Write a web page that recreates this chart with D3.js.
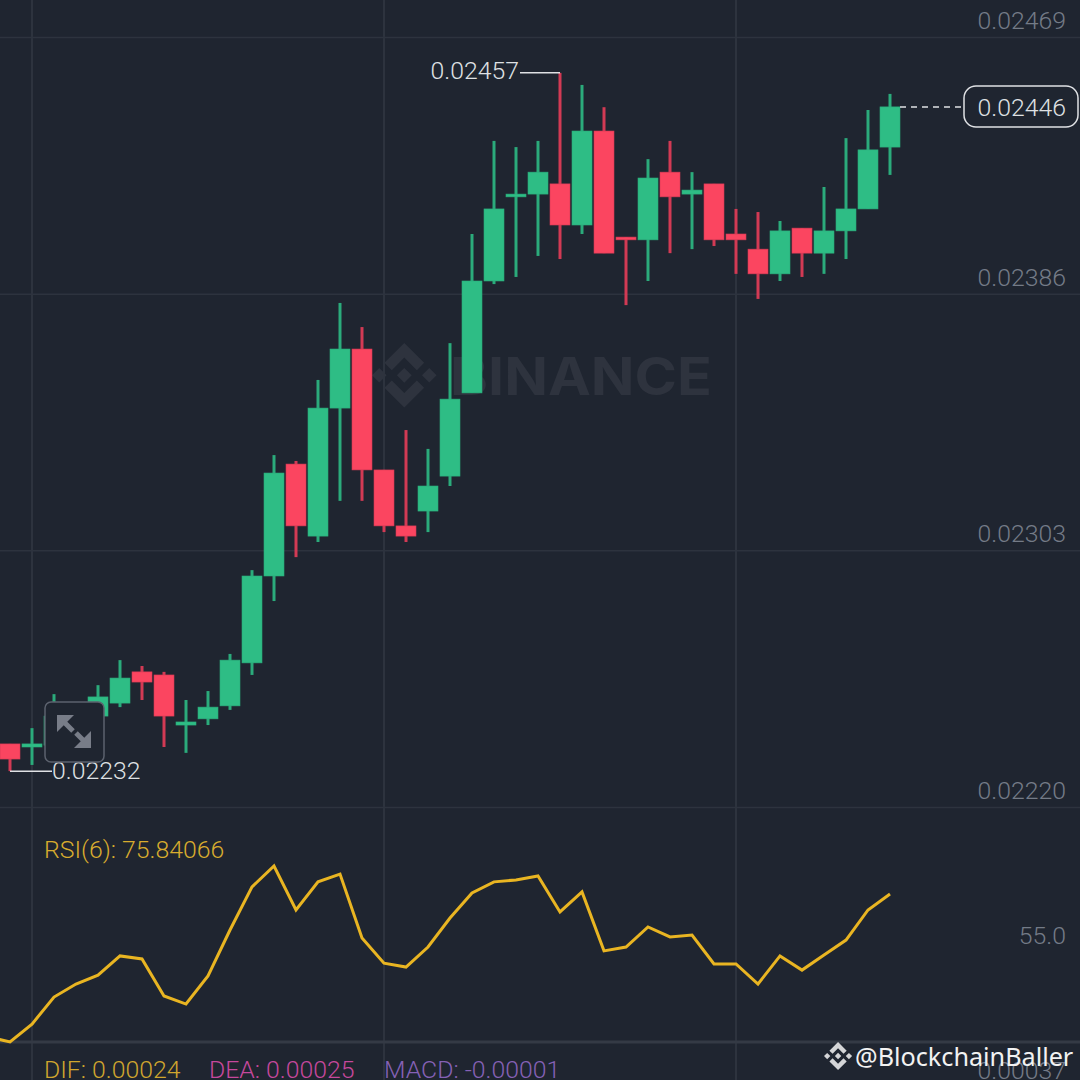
<!DOCTYPE html>
<html>
<head>
<meta charset="utf-8">
<script src="https://cdnjs.cloudflare.com/ajax/libs/d3/7.8.5/d3.min.js"></script>
<style>
  html, body { margin: 0; padding: 0; background: #1f2530; }
  svg { display: block; font-family: Roboto, sans-serif; font-weight: 300; }
</style>
</head>
<body>
<div id="vis"></div>
<script type="text/javascript">

    const opens = [0.022404, 0.022394, 0.022400, 0.022488, 0.022494, 0.022536, 0.022637, 0.022627, 0.022465, 0.022485, 0.022527,
        0.022666, 0.022947, 0.023309, 0.023076, 0.023490, 0.023681, 0.023290, 0.023109, 0.023157, 0.023270,
        0.023539, 0.023901, 0.024173, 0.024182, 0.024215, 0.024082, 0.024386, 0.024043, 0.024034, 0.024253,
        0.024182, 0.024215, 0.024053, 0.024004, 0.023924, 0.024072, 0.023991, 0.024063, 0.024134, 0.024334];
    const highs = [0.022404, 0.022455, 0.022565, 0.022533, 0.022594, 0.022675, 0.022656, 0.022637, 0.022546, 0.022575, 0.022695,
        0.022966, 0.023338, 0.023319, 0.023581, 0.023830, 0.023752, 0.023290, 0.023419, 0.023358, 0.023700,
        0.024053, 0.024354, 0.024334, 0.024354, 0.024574, 0.024535, 0.024463, 0.024043, 0.024295, 0.024354,
        0.024253, 0.024215, 0.024134, 0.024124, 0.024095, 0.024072, 0.024205, 0.024363, 0.024454, 0.024506];
    const lows = [0.022316, 0.022336, 0.022384, 0.022475, 0.022488, 0.022523, 0.022546, 0.022394, 0.022375, 0.022465, 0.022514,
        0.022627, 0.022866, 0.023008, 0.023057, 0.023190, 0.023190, 0.023089, 0.023057, 0.023089, 0.023238,
        0.023539, 0.023891, 0.023914, 0.023982, 0.023972, 0.024053, 0.023991, 0.023823, 0.023901, 0.023991,
        0.024004, 0.024014, 0.023924, 0.023843, 0.023901, 0.023914, 0.023924, 0.023972, 0.024134, 0.024244];
    const closes = [0.022355, 0.022404, 0.022494, 0.022514, 0.022556, 0.022617, 0.022604, 0.022494, 0.022475, 0.022523, 0.022675,
        0.022947, 0.023280, 0.023109, 0.023490, 0.023681, 0.023290, 0.023109, 0.023076, 0.023238, 0.023519,
        0.023901, 0.024134, 0.024182, 0.024253, 0.024082, 0.024386, 0.023991, 0.024034, 0.024234, 0.024173,
        0.024195, 0.024034, 0.024034, 0.023924, 0.024063, 0.023991, 0.024063, 0.024134, 0.024325, 0.024464];

    // one extra value in front: that candle sits off the left edge
    const rsi = [24.5, 22.7, 29.1, 38.8, 43.5, 46.7, 53.6, 52.5, 39.2, 36.3, 46.4,
        62.9, 78.4, 85.9, 70.1, 80.2, 83.0, 60.0, 51.0, 49.6, 56.8,
        67.2, 76.2, 80.2, 80.9, 82.3, 69.4, 76.6, 55.4, 56.8, 64.0,
        60.4, 61.1, 50.7, 50.7, 43.5, 53.6, 48.5, 53.9, 59.3, 70.1, 75.84066];

    const priceTicks = [0.02469, 0.02386, 0.02303, 0.02220];
    const timeTicks = [1, 17, 33];
    const rsiTick = 55;
    const macdTick = "0.00037";
    const macdLabels = [["DIF: 0.00024", "#d0a62e", 44], ["DEA: 0.00025", "#c5489c", 209], ["MACD: -0.00001", "#8561b5", 384]];

    const W = 1080, H = 1080;
    const BG = "#1f2530", GRID = "#2d333e", GRAY = "#747b87", WHITE = "#dfe1e4";
    const UP = "#2ebd85", DOWN = "#fb4560", UP_WICK = "#2bab7b", DOWN_WICK = "#d23a54";
    const FONT = "24.8px";
    const LOGO = "M38.73 53.2l24.59-24.58 24.6 24.6 14.3-14.31L63.32 0 24.42 38.9zM0 63.31l14.3-14.31 14.31 14.31-14.31 14.3zM38.73 73.41l24.59 24.59 24.6-24.6 14.31 14.29-38.9 38.91-38.91-38.88zM98 63.31l14.3-14.31 14.31 14.3-14.31 14.32zM77.83 63.3L63.32 48.78 52.59 59.51l-1.24 1.23-2.54 2.54 14.51 14.5 14.51-14.47z";

    const svg = d3.select("#vis").append("svg").attr("width", W).attr("height", H);
    svg.append("rect").attr("width", W).attr("height", H).attr("fill", BG);

    const x = d3.scaleLinear().domain([0, 40]).range([10, 890]);
    const y = d3.scaleLinear().domain([0.02220, 0.02469]).range([807, 37]);
    const rsiY = d3.scaleLinear().domain([55, 75.84066]).range([952, 894]);
    const fmt = d3.format(".5f");
    const indexes = d3.range(opens.length);

    // vertical grid
    svg.append("g").selectAll("line").data(timeTicks).join("line")
        .attr("x1", d => x(d)).attr("x2", d => x(d))
        .attr("y1", 0).attr("y2", H)
        .attr("stroke", GRID).attr("stroke-width", 2);

    // price axis, the ticks are the horizontal grid
    svg.append("g")
        .call(d3.axisRight(y).tickValues(priceTicks).tickFormat(fmt).tickSize(W))
        .call(g => g.select(".domain").remove())
        .call(g => g.selectAll("line").attr("stroke", GRID).attr("stroke-width", 1.5))
        .call(g => g.selectAll("text")
            .attr("x", 1066).attr("y", -8.5).attr("dy", 0)
            .attr("text-anchor", "end")
            .attr("fill", GRAY)
            .style("font-family", "Roboto").style("font-size", FONT));

    svg.append("line").attr("x1", 0).attr("x2", W).attr("y1", 1042).attr("y2", 1042)
        .attr("stroke", "#343a45").attr("stroke-width", 3);

    // watermark
    svg.append("path").attr("d", LOGO).attr("fill", "#2e333e")
        .attr("transform", "translate(372,343) scale(0.51)");
    svg.append("text").attr("x", 450).attr("y", 395)
        .attr("textLength", 262).attr("lengthAdjust", "spacingAndGlyphs")
        .attr("fill", "#2e333e")
        .style("font-family", "Inter").style("font-weight", 700).style("font-size", "52px")
        .text("BINANCE");

    // candles
    const candles = svg.append("g").selectAll("g").data(indexes).join("g");
    candles.append("line")
        .attr("x1", i => x(i)).attr("x2", i => x(i))
        .attr("y1", i => y(highs[i])).attr("y2", i => y(lows[i]))
        .attr("stroke", i => closes[i] >= opens[i] ? UP_WICK : DOWN_WICK)
        .attr("stroke-width", 3);
    candles.append("rect")
        .attr("x", i => x(i) - 10).attr("width", 20)
        .attr("y", i => y(Math.max(opens[i], closes[i])))
        .attr("height", i => Math.abs(y(opens[i]) - y(closes[i])))
        .attr("fill", i => closes[i] >= opens[i] ? UP : DOWN)
        .attr("stroke", i => closes[i] >= opens[i] ? UP_WICK : DOWN_WICK)
        .attr("stroke-width", 0.6);

    // highest and lowest price
    const hiIdx = d3.maxIndex(highs), loIdx = d3.minIndex(lows), last = opens.length - 1;
    svg.append("line").attr("x1", x(hiIdx)).attr("x2", 520)
        .attr("y1", y(highs[hiIdx])).attr("y2", y(highs[hiIdx]))
        .attr("stroke", WHITE).attr("stroke-width", 1.5);
    svg.append("text").attr("x", 519).attr("y", y(highs[hiIdx]) + 6)
        .attr("text-anchor", "end").attr("fill", WHITE)
        .style("font-size", FONT).text(fmt(highs[hiIdx]));
    svg.append("line").attr("x1", x(loIdx)).attr("x2", 52)
        .attr("y1", y(lows[loIdx])).attr("y2", y(lows[loIdx]))
        .attr("stroke", WHITE).attr("stroke-width", 1.5);
    svg.append("text").attr("x", 52).attr("y", y(lows[loIdx]) + 8)
        .attr("fill", WHITE)
        .style("font-size", FONT).text(fmt(lows[loIdx]));

    // last price
    svg.append("line").attr("x1", x(last) + 10).attr("x2", 962)
        .attr("y1", y(closes[last])).attr("y2", y(closes[last]))
        .attr("stroke", WHITE).attr("stroke-width", 1.5).attr("stroke-dasharray", "6 5");
    svg.append("rect").attr("x", 964).attr("y", 86).attr("width", 114).attr("height", 41).attr("rx", 12)
        .attr("fill", BG).attr("stroke", WHITE).attr("stroke-width", 1.5);
    svg.append("text").attr("x", 1066).attr("y", 116)
        .attr("text-anchor", "end").attr("fill", WHITE)
        .style("font-size", FONT).text(fmt(closes[last]));

    // RSI panel
    const rsiLine = d3.line().x((d, i) => x(i - 1)).y(d => rsiY(d));
    svg.append("path").datum(rsi).attr("d", rsiLine)
        .attr("fill", "none").attr("stroke", "#e9b522").attr("stroke-width", 3).attr("stroke-linejoin", "miter");
    svg.append("text").attr("x", 44).attr("y", 858).attr("fill", "#d8ac2e")
        .style("font-size", FONT).text("RSI(6): " + d3.format(".5f")(rsi[rsi.length - 1]));
    svg.append("text").attr("x", 1066).attr("y", rsiY(rsiTick) - 8.5)
        .attr("text-anchor", "end").attr("fill", GRAY)
        .style("font-size", FONT).text(d3.format(".1f")(rsiTick));

    // MACD legend
    svg.append("g").selectAll("text").data(macdLabels).join("text")
        .attr("x", d => d[2]).attr("y", 1078)
        .attr("fill", d => d[1])
        .style("font-size", FONT).text(d => d[0]);
    svg.append("text").attr("x", 1066).attr("y", 1079)
        .attr("text-anchor", "end").attr("fill", GRAY)
        .style("font-size", FONT).text(macdTick);

    // expand button
    const btn = svg.append("g");
    btn.append("rect").attr("x", 45).attr("y", 702).attr("width", 59).attr("height", 60).attr("rx", 6)
        .attr("fill", BG).attr("stroke", "#5c626e").attr("stroke-width", 1.5);
    btn.append("path").attr("fill", "#787d88")
        .attr("d", "M57 715L74 715L57 732Z M91 748L74 748L91 731Z");
    btn.append("path").attr("stroke", "#787d88").attr("stroke-width", 5).attr("fill", "none")
        .attr("d", "M64 722L73 731 M76 733L85 742");

    // author tag
    svg.append("path").attr("d", LOGO).attr("fill", "#d4d5d7")
        .attr("transform", "translate(824,1042) scale(0.222)");
    svg.append("text").attr("x", 855).attr("y", 1066)
        .attr("fill", "#f2f2f2")
        .style("font-family", "Noto Sans").style("font-weight", 400).style("font-size", "25.2px")
        .text("@BlockchainBaller");

</script>
</body>
</html>
